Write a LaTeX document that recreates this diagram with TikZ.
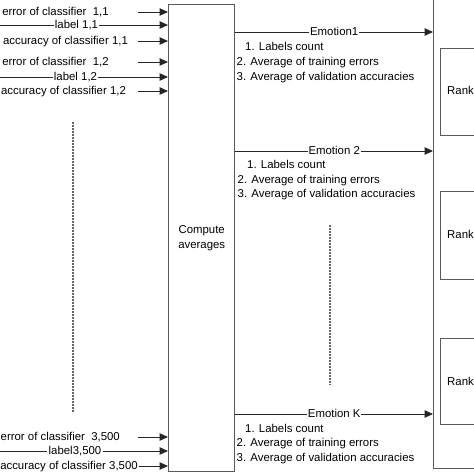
\documentclass[tikz,border=0pt]{standalone}
\usepackage{fontspec}
\setmainfont{Liberation Sans}
\usetikzlibrary{arrows.meta}
\begin{document}
\begin{tikzpicture}[x=1pt,y=-1pt,
  box/.style={draw=black!65, line width=1.4pt, inner sep=0pt},
  txt/.style={inner sep=0pt, text height=8.5pt, text depth=1.5pt, font=\fontsize{11.4}{13}\selectfont},
  lbl/.style={txt, fill=white, inner xsep=1pt},
  arr/.style={draw=black!85, line width=1pt, -{Triangle[length=8.5pt,width=7.5pt]}},
  ln/.style={draw=black!85, line width=1pt},
  dots/.style={draw=black!60, line width=1.2pt, dash pattern=on 2pt off 1pt}]
\useasboundingbox (0,0) rectangle (474,474);

% main boxes
\node[box, minimum width=66pt, minimum height=467pt, anchor=north west,
      align=center, font=\fontsize{11.4}{15}\selectfont] (avg) at (168,4) {Compute\\averages};
\node[box, minimum width=60pt, minimum height=490pt, anchor=south west] (rk) at (433,469) {};
\node[box, minimum width=50pt, minimum height=87pt, anchor=north west] (r1) at (440,48) {};
\node[box, minimum width=50pt, minimum height=88pt, anchor=north west] (r2) at (440,191) {};
\node[box, minimum width=50pt, minimum height=86pt, anchor=north west] (r3) at (440,338) {};
\node[txt, anchor=west] (r1t) at (447,91) {Rank};
\node[txt, anchor=west] (r2t) at (447,235) {Rank};
\node[txt, anchor=west] (r3t) at (447,382) {Rank};

% emotion arrows
\draw[arr] (avg.east |- 0,32) -- node[lbl] (em1) {Emotion1} (rk.west |- 0,32);
\draw[arr] (avg.east |- 0,151) -- node[lbl] (em2) {Emotion 2} (rk.west |- 0,151);
\draw[arr] (avg.east |- 0,414) -- node[lbl] (emK) {Emotion K} (rk.west |- 0,414);

\node[txt, anchor=west] (m1a) at (245,47) {1. Labels count};
\node[txt, anchor=west] (m1b) at (236.5,62) {2. Average of training errors};
\node[txt, anchor=west] (m1c) at (236.5,77) {3. Average of validation accuracies};
\node[txt, anchor=west] (m2a) at (247,165) {1. Labels count};
\node[txt, anchor=west] (m2b) at (237.5,180) {2. Average of training errors};
\node[txt, anchor=west] (m2c) at (237.5,194) {3. Average of validation accuracies};
\node[txt, anchor=west] (mKa) at (245,429) {1. Labels count};
\node[txt, anchor=west] (mKb) at (236.5,443) {2. Average of training errors};
\node[txt, anchor=west] (mKc) at (236.5,458) {3. Average of validation accuracies};

% inputs, classifier 1,1
\node[txt] (e11) at (55.5,12) {error of classifier~~1,1};
\coordinate (e11s) at (138,12);
\draw[arr] (e11s) -- (avg.west |- e11s);
\node[lbl] (l11) at (76.5,25) {label 1,1};
\coordinate (l11s) at (-1,25);
\draw[ln] (l11s) -- (l11.west);
\draw[arr] (l11.east) -- (avg.west |- l11);
\node[txt] (a11) at (65.5,41) {accuracy of classifier 1,1};
\coordinate (a11s) at (138,41);
\draw[arr] (a11s) -- (avg.west |- a11s);

% inputs, classifier 1,2
\node[txt] (e12) at (55.5,62) {error of classifier~~1,2};
\coordinate (e12s) at (138,62);
\draw[arr] (e12s) -- (avg.west |- e12s);
\node[lbl] (l12) at (75.5,77) {label 1,2};
\coordinate (l12s) at (-1,77);
\draw[ln] (l12s) -- (l12.west);
\draw[arr] (l12.east) -- (avg.west |- l12);
\node[txt] (a12) at (63.5,91) {accuracy of classifier 1,2};
\coordinate (a12s) at (138,91);
\draw[arr] (a12s) -- (avg.west |- a12s);

% inputs, classifier 3,500
\node[txt, anchor=west] (eK) at (0.5,437) {error of classifier~~3,500};
\coordinate (eKs) at (138,437);
\draw[arr] (eKs) -- (avg.west |- eKs);
\node[lbl] (lK) at (75,451) {label3,500};
\coordinate (lKs) at (-1,451);
\draw[ln] (lKs) -- (lK.west);
\draw[arr] (lK.east) -- (avg.west |- lK);
\node[lbl] (aK) at (69,466) {accuracy of classifier 3,500};
\draw[arr] (aK.east) -- (avg.west |- aK);

% ellipsis lines
\draw[dots] (73,122) -- (73,413);
\draw[dots] (330,225) -- (330,385);
\end{tikzpicture}
\end{document}
